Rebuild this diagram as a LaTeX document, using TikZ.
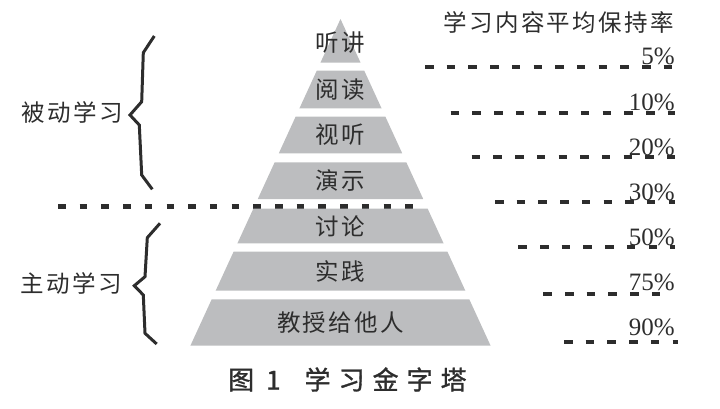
\documentclass[tikz,border=0pt]{standalone}
\usepackage{fontspec}
\setmainfont{Liberation Serif}
\newfontfamily\cjk[LetterSpace=10]{Noto Sans CJK SC}
\newfontfamily\cjkcap[FakeBold=1.2]{Noto Sans CJK SC}
\definecolor{layergray}{RGB}{188,189,191}
\definecolor{ink}{RGB}{45,45,45}
\newcommand\layer[2]{%
  \fill[layergray] ({340.5-0.4595*(#1-19)},#1) -- ({340.5+0.4595*(#1-19)},#1)
    -- ({340.5+0.4595*(#2-19)},#2) -- ({340.5-0.4595*(#2-19)},#2) -- cycle;}
\begin{document}
\begin{tikzpicture}[x=1pt,y=-1pt,
  lbl/.style={inner sep=0pt,text=ink,font=\cjk\fontsize{23.5}{26}\selectfont},
  pct/.style={inner sep=0pt,text=ink,anchor=base east,font=\fontsize{25}{28}\selectfont},
  dashline/.style={draw=ink,line width=4.2pt,dash pattern=on 8.5pt off 13.2pt},
  bracestyle/.style={draw=ink,line width=3pt,line join=miter}]
\useasboundingbox (0,0) rectangle (720,409);
% divider
\coordinate (dL) at (58,206.5);
\coordinate (dR) at (414,206.5);
\draw[dashline,dash pattern=on 7.5pt off 14.2pt] (dL) -- (dR);
% pyramid layers
\fill[layergray] (340.5,19) -- ({340.5+0.4595*43.7},62.7) -- ({340.5-0.4595*43.7},62.7) -- cycle;
\layer{70.7}{108.3}
\layer{116.7}{153.3}
\layer{162.3}{199}
\layer{208.5}{243.3}
\layer{251.7}{290.7}
\layer{299.3}{345.7}
% layer labels
\node[lbl] (l1) at (340.5,43) {听讲};
\node[lbl] (l2) at (340.5,89.5) {阅读};
\node[lbl] (l3) at (340.5,135) {视听};
\node[lbl] (l4) at (340.5,180.7) {演示};
\node[lbl] (l5) at (340.5,226) {讨论};
\node[lbl] (l6) at (340.5,271) {实践};
\node[lbl] (l7) at (340.5,322.5) {教授给他人};
% title
\node[lbl,anchor=east] (title) at (674,22) {学习内容平均保持率};
% side labels
\node[lbl] (passive) at (72.5,112) {被动学习};
\node[lbl] (active) at (71.5,283) {主动学习};
% braces
\coordinate (b1a) at (154.3,36);
\coordinate (b1b) at (152.3,189.3);
\draw[bracestyle] (b1a) -- (143.3,52.7) -- (141.7,101.7) -- (130,115) -- (139.3,125) -- (141.7,175) -- (b1b);
\coordinate (b2a) at (160,223.3);
\coordinate (b2b) at (156.7,344);
\draw[bracestyle] (b2a) -- (147.3,237.7) -- (145,276.7) -- (134.3,285.7) -- (143.3,295) -- (145,333.3) -- (b2b);
% retention lines
\coordinate (r1a) at (425,66.7);   \coordinate (r1b) at (673,66.7);
\coordinate (r2a) at (450.7,113.3); \coordinate (r2b) at (675,113.3);
\coordinate (r3a) at (471.7,156.7); \coordinate (r3b) at (675,156.7);
\coordinate (r4a) at (495,201.7);   \coordinate (r4b) at (675,201.7);
\coordinate (r5a) at (518.3,246.7); \coordinate (r5b) at (675,246.7);
\coordinate (r6a) at (543.3,294.3); \coordinate (r6b) at (660,294.3);
\coordinate (r7a) at (564,341.7);   \coordinate (r7b) at (678,341.7);
\foreach \i in {1,...,7} {\draw[dashline] (r\i a) -- (r\i b);}
\node[pct] (p1) at (675,64.7) {5\%};
\node[pct] (p2) at (675,110.5) {10\%};
\node[pct] (p3) at (675,155) {20\%};
\node[pct] (p4) at (675,200) {30\%};
\node[pct] (p5) at (675,245) {50\%};
\node[pct] (p6) at (675,290) {75\%};
\node[pct] (p7) at (675,335) {90\%};
% caption
\node[inner sep=0pt,anchor=west,text=ink,font=\cjkcap\fontsize{26}{30}\selectfont] (cap) at (228,379.5)
  {图\hspace{12pt}1\hspace{24pt}学\hspace{8pt}习\hspace{8pt}金\hspace{8pt}字\hspace{8pt}塔};
\end{tikzpicture}
\end{document}
